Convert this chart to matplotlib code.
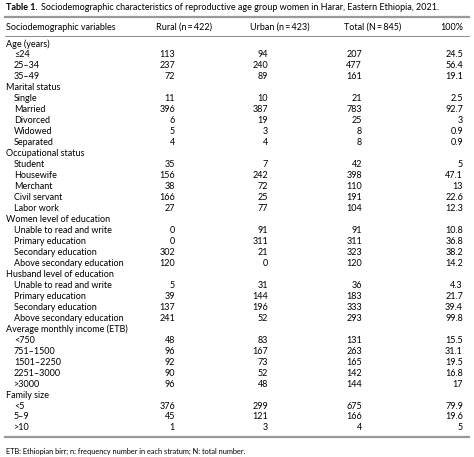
import matplotlib
matplotlib.use("Agg")
from matplotlib import pyplot as plt

plt.rcParams['font.family'] = ['Lato', 'DejaVu Sans']

title_bold = "Table 1."
title_rest = "Sociodemographic characteristics of reproductive age group women in Harar, Eastern Ethiopia, 2021."
headers = ["Sociodemographic variables", "Rural (n\u2009=\u2009422)", "Urban (n\u2009=\u2009423)", "Total (N\u2009=\u2009845)", "100%"]
footnote = "ETB: Ethiopian birr; n: frequency number in each stratum; N: total number."

sections = ["Age (years)", "Marital status", "Occupational status", "Women level of education",
            "Husband level of education", "Average monthly income (ETB)", "Family size"]
categories = [
    ["\u226424", "25\u201334", "35\u201349"],
    ["Single", "Married", "Divorced", "Widowed", "Separated"],
    ["Student", "Housewife", "Merchant", "Civil servant", "Labor work"],
    ["Unable to read and write", "Primary education", "Secondary education", "Above secondary education"],
    ["Unable to read and write", "Primary education", "Secondary education", "Above secondary education"],
    ["<750", "751\u20131500", "1501\u20132250", "2251\u20133000", ">3000"],
    ["<5", "5\u20139", ">10"],
]
rural = [[113, 237, 72], [11, 396, 6, 5, 4], [35, 156, 38, 166, 27], [0, 0, 302, 120],
         [5, 39, 137, 241], [48, 96, 92, 90, 96], [376, 45, 1]]
urban = [[94, 240, 89], [10, 387, 19, 3, 4], [7, 242, 72, 25, 77], [91, 311, 21, 0],
         [31, 144, 196, 52], [83, 167, 73, 52, 48], [299, 121, 3]]
total = [[207, 477, 161], [21, 783, 25, 8, 8], [42, 398, 110, 191, 104], [91, 311, 323, 120],
         [36, 183, 333, 293], [131, 263, 165, 142, 144], [675, 166, 4]]
pct = [[24.5, 56.4, 19.1], [2.5, 92.7, 3, 0.9, 0.9], [5, 47.1, 13, 22.6, 12.3], [10.8, 36.8, 38.2, 14.2],
       [4.3, 21.7, 39.4, 99.8], [15.5, 31.1, 19.5, 16.8, 17], [79.9, 19.6, 5]]

W, H = 474, 457
fig = plt.figure(figsize=(W / 100, H / 100), dpi=100)
ax = fig.add_axes([0, 0, 1, 1])
ax.set_xlim(0, W)
ax.set_ylim(H, 0)
ax.axis('off')

fs = 6.5
col_x = [175, 268, 362, 463]
ax.text(6, 8, title_bold, fontsize=fs, fontweight='bold', va='center', ha='left')
ax.text(41, 8, title_rest, fontsize=fs, va='center', ha='left')

ax.plot([5, 469], [17, 17], color='#999999', lw=1.6)
ax.text(6, 27, headers[0], fontsize=fs, va='center')
ax.text(184, 27, headers[1], fontsize=fs, va='center', ha='center')
ax.text(280, 27, headers[2], fontsize=fs, va='center', ha='center')
ax.text(373, 27, headers[3], fontsize=fs, va='center', ha='center')
ax.text(463, 27, headers[4], fontsize=fs, va='center', ha='right')
ax.plot([5, 469], [36, 36], color='#777777', lw=0.6)

y = 44
dy = 10.97
for i, sec in enumerate(sections):
    ax.text(6, y, sec, fontsize=fs, va='center')
    y += dy
    for j, cat in enumerate(categories[i]):
        ax.text(14, y, cat, fontsize=fs, va='center')
        vals = [rural[i][j], urban[i][j], total[i][j]]
        for x, v in zip(col_x[:3], vals):
            ax.text(x, y, str(v), fontsize=fs, va='center', ha='right')
        ax.text(col_x[3], y, f"{pct[i][j]:g}", fontsize=fs, va='center', ha='right')
        y += dy

ax.plot([5, 469], [437, 437], color='#999999', lw=1.6)
ax.text(6, 451, footnote, fontsize=5.3, va='center')

fig.savefig("out.png", dpi=100)
